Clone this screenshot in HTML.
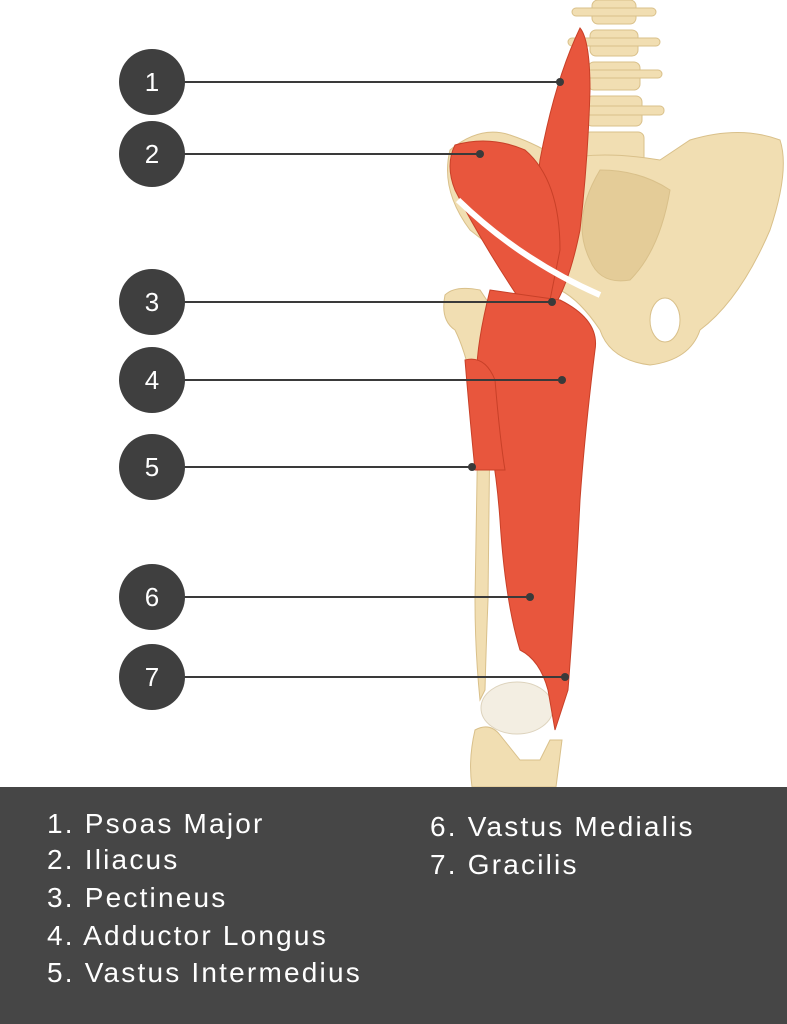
<!DOCTYPE html>
<html><head><meta charset="utf-8"><style>
body{margin:0;width:787px;height:1024px;background:#fff;position:relative;overflow:hidden;font-family:"Liberation Sans",sans-serif}
.band{position:absolute;left:0;top:787px;width:787px;height:237px;background:#464646}
.t{position:absolute;color:#fff;font-size:28px;letter-spacing:2.2px;white-space:nowrap}
</style></head><body>
<svg width="787" height="787" style="position:absolute;left:0;top:0">
<g fill="#f1deb2" stroke="#d9c08a" stroke-width="1">
<rect x="592" y="0" width="44" height="24" rx="6"/>
<rect x="572" y="8" width="84" height="8" rx="4"/>
<rect x="590" y="30" width="48" height="26" rx="6"/>
<rect x="568" y="38" width="92" height="8" rx="4"/>
<rect x="588" y="62" width="52" height="28" rx="6"/>
<rect x="566" y="70" width="96" height="8" rx="4"/>
<rect x="586" y="96" width="56" height="30" rx="6"/>
<rect x="564" y="106" width="100" height="9" rx="4"/>
<rect x="584" y="132" width="60" height="32" rx="6"/>
<path d="M560 160 Q600 150 660 160 L690 140 Q740 125 780 140 Q790 170 770 230 Q740 300 700 330 Q690 360 650 365 Q610 360 600 330 Q580 300 560 290 Q520 270 470 230 Q440 190 450 150 Q480 125 510 135 Q540 145 560 160Z"/>
<path d="M600 170 Q640 170 670 190 Q660 250 630 280 Q600 285 590 260 Q570 220 600 170Z" fill="#e4cc98"/>
<ellipse cx="665" cy="320" rx="15" ry="22" fill="#fff"/>
<path d="M445 295 Q455 285 480 290 L500 320 Q495 360 490 420 L488 600 Q486 650 485 690 L480 700 Q475 650 475 600 L478 420 Q470 360 455 330 Q440 320 445 295Z"/>
<ellipse cx="517" cy="708" rx="36" ry="26" fill="#f3eee2" stroke="#ddd3bd"/>
<path d="M475 730 Q490 722 500 735 L520 760 L540 760 L550 740 L562 740 L556 787 L472 787 Q468 760 475 730Z"/>
</g>
<g fill="#e8563d" stroke="#c84028" stroke-width="1">
<path d="M580 28 Q590 40 590 90 Q588 160 580 230 Q570 280 555 305 L535 300 Q530 230 540 160 Q555 80 580 28Z"/>
<path d="M455 145 Q490 135 525 150 Q560 180 560 250 L550 300 L520 300 Q480 240 455 190 Q445 165 455 145Z"/>
<path d="M490 290 L560 300 Q600 320 595 350 Q585 430 580 500 Q575 600 568 690 L555 730 L548 690 Q540 660 520 650 Q505 600 500 520 Q495 450 480 400 Q470 370 490 290Z"/>
<path d="M465 360 Q485 355 495 380 Q500 440 505 470 L475 470 Q470 420 465 360Z"/>
</g>
<path d="M458 200 Q520 260 600 295" stroke="#fff" stroke-width="6" fill="none"/>
<g stroke="#3a3a3a" stroke-width="2">
<line x1="184" y1="82" x2="560" y2="82"/><line x1="184" y1="154" x2="480" y2="154"/>
<line x1="184" y1="302" x2="552" y2="302"/><line x1="184" y1="380" x2="562" y2="380"/>
<line x1="184" y1="467" x2="472" y2="467"/><line x1="184" y1="597" x2="530" y2="597"/>
<line x1="184" y1="677" x2="565" y2="677"/>
</g>
<g fill="#3a3a3a">
<circle cx="560" cy="82" r="4"/><circle cx="480" cy="154" r="4"/><circle cx="552" cy="302" r="4"/>
<circle cx="562" cy="380" r="4"/><circle cx="472" cy="467" r="4"/><circle cx="530" cy="597" r="4"/><circle cx="565" cy="677" r="4"/>
</g>
<g fill="#3f3f3f">
<circle cx="152" cy="82" r="33"/><circle cx="152" cy="154" r="33"/><circle cx="152" cy="302" r="33"/>
<circle cx="152" cy="380" r="33"/><circle cx="152" cy="467" r="33"/><circle cx="152" cy="597" r="33"/><circle cx="152" cy="677" r="33"/>
</g>
<g fill="#fff" font-family="Liberation Sans,sans-serif" font-size="26" text-anchor="middle">
<text x="152" y="91">1</text><text x="152" y="163">2</text><text x="152" y="311">3</text>
<text x="152" y="389">4</text><text x="152" y="476">5</text><text x="152" y="606">6</text><text x="152" y="686">7</text>
</g>
</svg>
<div class="band"></div>
<div class="t" style="left:47px;top:808px">1. Psoas Major</div>
<div class="t" style="left:47px;top:844px">2. Iliacus</div>
<div class="t" style="left:47px;top:882px">3. Pectineus</div>
<div class="t" style="left:47px;top:920px">4. Adductor Longus</div>
<div class="t" style="left:47px;top:957px">5. Vastus Intermedius</div>
<div class="t" style="left:430px;top:811px">6. Vastus Medialis</div>
<div class="t" style="left:430px;top:849px">7. Gracilis</div>
</body></html>
